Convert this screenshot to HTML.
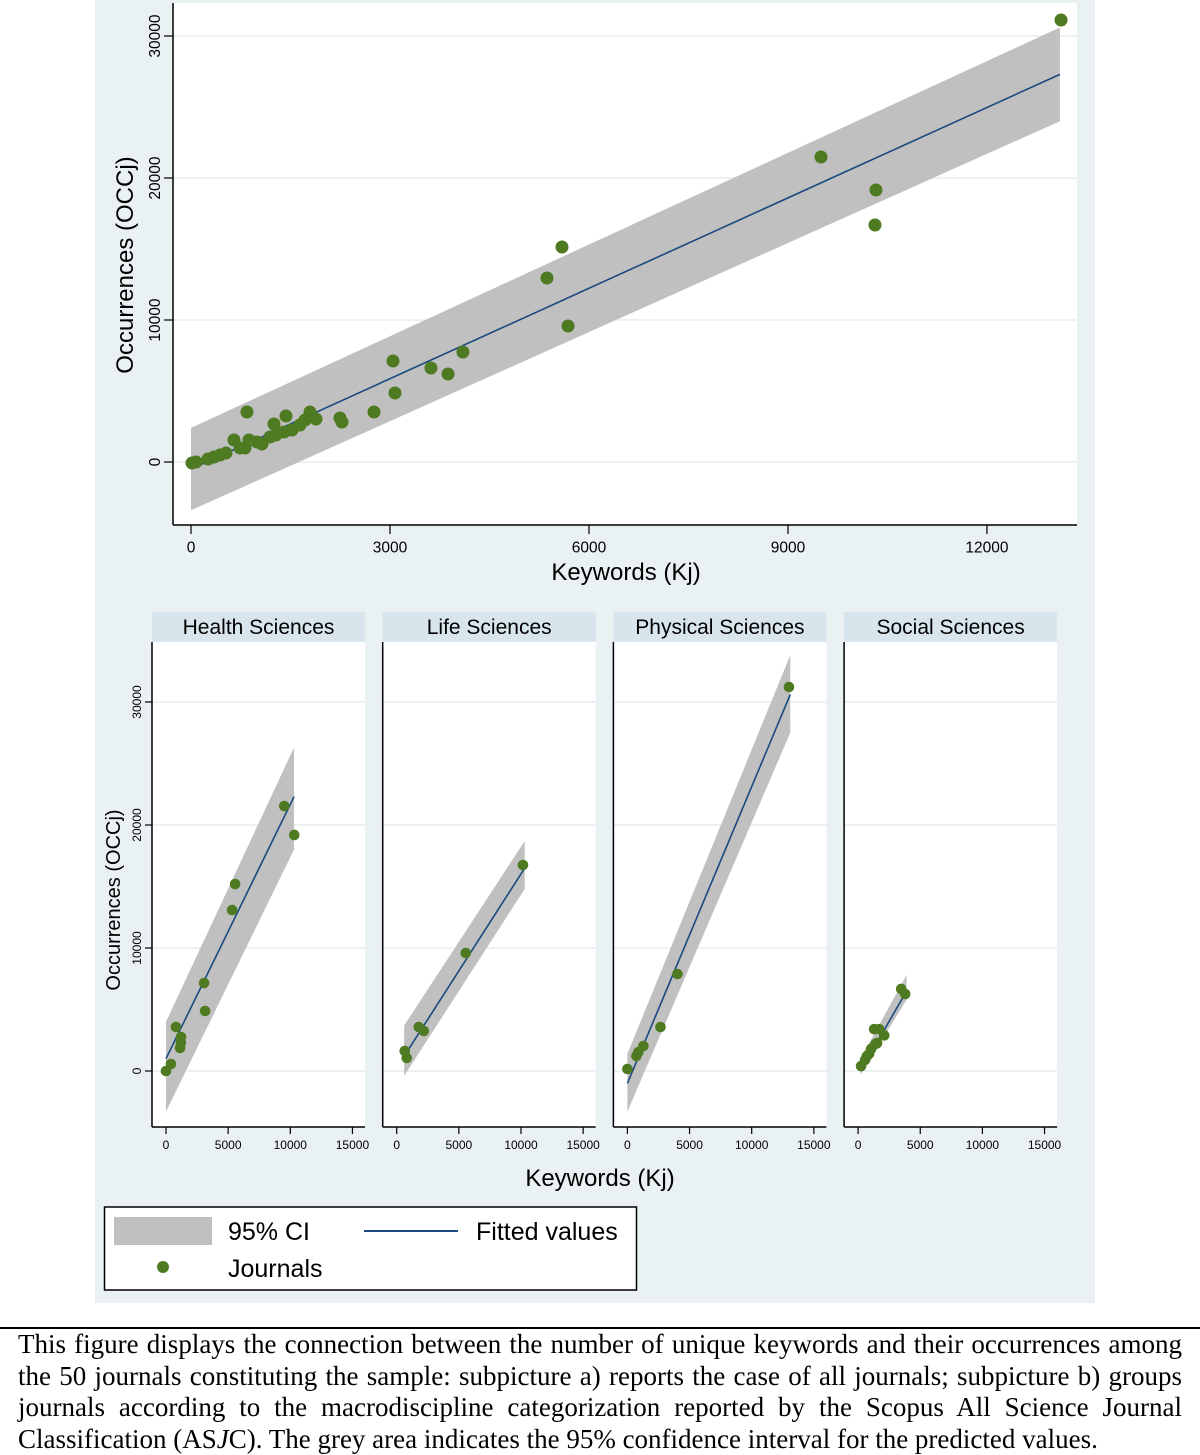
<!DOCTYPE html>
<html><head><meta charset="utf-8"><style>
html,body{margin:0;padding:0;background:#fff;width:1200px;height:1455px;overflow:hidden}
svg{position:absolute;left:0;top:0}
#cap{position:absolute;left:18px;top:1329px;width:1164px;font-family:"Liberation Serif",serif;font-size:27px;line-height:31.5px;color:#000}
#cap span{display:block;white-space:nowrap;text-align:justify;text-align-last:justify}
#cap span.last{text-align-last:left}
</style></head><body>
<svg id="chart" width="1200" height="1455" font-family="Liberation Sans, sans-serif"></svg>
<div style="position:absolute;left:0;top:1327px;width:1200px;height:1.5px;background:#000"></div>
<div id="cap"><span>This figure displays the connection between the number of unique keywords and their occurrences among</span><span>the 50 journals constituting the sample: subpicture a) reports the case of all journals; subpicture b) groups</span><span>journals according to the macrodiscipline categorization reported by the Scopus All Science Journal</span><span class="last">Classification (AS<i>J</i>C). The grey area indicates the 95% confidence interval for the predicted values.</span></div>
<script>
// ---- data: all journals ----
const allKj = [13117,9498,10327,10312,5593,5367,5684,4100,3045,3618,3875,3075,2759,2246,2276,844,1432,1251,1794,1884,1719,1643,1523,1402,1281,1191,1070,995,874,814,739,648,528,437,347,256,75,15];
const allOcc = [31127,21479,19155,16690,15140,12958,9577,7746,7113,6620,6197,4859,3521,3099,2817,3521,3239,2676,3521,3028,2958,2606,2254,2113,1901,1761,1268,1408,1549,986,986,1549,634,493,352,211,0,-70];
const allFitX = [0,13100];
const allFitY = [-500,27300];
const allCiLo = [-3400,24000];
const allCiHi = [2400,30600];
const topXTicks = [0,3000,6000,9000,12000];
const topYTicks = [0,10000,20000,30000];
// ---- data: by discipline ----
const panelNames = ["Health Sciences","Life Sciences","Physical Sciences","Social Sciences"];
const healthKj = [0,400,800,1210,1130,1200,3145,3065,5320,5560,9516,10320];
const healthOcc = [0,570,3577,2760,1870,2300,4878,7150,13090,15200,21540,19190];
const lifeKj = [645,806,1774,2177,5560,10160];
const lifeOcc = [1626,1057,3577,3252,9593,16748];
const physKj = [0,726,887,1290,2660,4030,13000];
const physOcc = [160,1220,1545,2033,3577,7886,31220];
const socKj = [240,565,890,1290,1530,1690,2100,3470,3790,700,1050,1400];
const socOcc = [400,900,1400,3400,2270,3400,2900,6670,6260,1200,1800,2200];
const fitX = [[0,10300],[600,10300],[0,13100],[200,3900]];
const fitY = [[1000,22300],[1200,16500],[-1000,30600],[0,6500]];
const ciLo = [[-3300,18000],[-400,14800],[-3300,27500],[-300,5800]];
const ciHi = [[4000,26300],[3700,18700],[1400,33800],[1000,7800]];
const subXTicks = [0,5000,10000,15000];
const subYTicks = [0,10000,20000,30000];

const NS="http://www.w3.org/2000/svg";
const svg=document.getElementById('chart');
function mk(tag,attrs,parent){const e=document.createElementNS(NS,tag);for(const k in attrs)e.setAttribute(k,attrs[k]);(parent||svg).appendChild(e);return e;}
function txt(s,attrs,parent){const e=mk('text',attrs,parent);e.textContent=s;return e;}

const bg=mk('rect',{x:95,y:0,width:1000,height:1303,fill:'#eaf1f3'});



function panel(o){
  const g=mk('g',{});
  
  
  const sx=v=>o.x0+(v-0)*o.kx, sy=v=>o.y0-v*o.ky;
  const pr=mk('rect',{x:o.L,y:o.T,width:o.R-o.L,height:o.B-o.T,fill:'#fff'},g);
  
  
  o.yt.forEach(t=>{
    const gl=mk('line',{x1:o.L,x2:o.R,y1:sy(t),y2:sy(t),stroke:'#e4edf1','stroke-width':1.5},g);
    
    
  });
  const band=mk('polygon',{points:`${sx(o.fx[0])},${sy(o.lo[0])} ${sx(o.fx[1])},${sy(o.lo[1])} ${sx(o.fx[1])},${sy(o.hi[1])} ${sx(o.fx[0])},${sy(o.hi[0])}`,fill:'#c0c0c0'},g);
  
  
  const fl=mk('line',{x1:sx(o.fx[0]),y1:sy(o.fy[0]),x2:sx(o.fx[1]),y2:sy(o.fy[1]),stroke:'#1a4a80','stroke-width':1.6},g);
  
  
  o.px.forEach((v,i)=>{
    const c=mk('circle',{cx:sx(v),cy:sy(o.py[i]),r:o.r,fill:'#4e7a21'},g);
    
    
  });
  mk('line',{x1:o.L,x2:o.L,y1:o.T,y2:o.B,stroke:'#000','stroke-width':1.5},g);
  mk('line',{x1:o.L,x2:o.R,y1:o.B,y2:o.B,stroke:'#000','stroke-width':1.5},g);
  o.xt.forEach(t=>{
    mk('line',{x1:sx(t),x2:sx(t),y1:o.B,y2:o.B+o.tl,stroke:'#000','stroke-width':1.2},g);
    const l=txt(String(t),{x:sx(t),y:o.B+o.tl+o.fs+3,'font-size':o.fs,'text-anchor':'middle'},g);
    
    
  });
  if(o.showY) o.yt.forEach(t=>{
    mk('line',{x1:o.L-o.tl,x2:o.L,y1:sy(t),y2:sy(t),stroke:'#000','stroke-width':1.2},g);
    const x=o.L-o.tl-4, y=sy(t);
    const l=txt(String(t),{x:x,y:y,'font-size':o.fs,'text-anchor':'middle',transform:`rotate(-90 ${x} ${y})`},g);
    
    
  });
}

panel({name:'all-journals-plot',L:173,R:1077,T:3,B:525,x0:191,kx:0.06633,y0:462,ky:0.0142,
  px:allKj,py:allOcc,fx:allFitX,fy:allFitY,lo:allCiLo,hi:allCiHi,xt:topXTicks,yt:topYTicks,r:6.5,tl:9,fs:15.5,showY:true});
let t=txt('Occurrences (OCCj)',{x:133,y:265,'font-size':24,'text-anchor':'middle',transform:'rotate(-90 133 265)'});


t=txt('Keywords (Kj)',{x:626,y:580,'font-size':24,'text-anchor':'middle'});



const pts=[[healthKj,healthOcc],[lifeKj,lifeOcc],[physKj,physOcc],[socKj,socOcc]];
panelNames.forEach((n,i)=>{
  const L=152+i*230.7, R=L+213;
  const h=mk('rect',{x:L,y:612,width:213,height:30,fill:'#d9e5ec'});
  
  
  const ht=txt(n,{x:L+106.5,y:634,'font-size':21,'text-anchor':'middle'});
  
  
  panel({name:'panel-'+n.toLowerCase().replace(' ','-'),L:L,R:R,T:642,B:1127,x0:L+14,kx:0.01243,y0:1071,ky:0.0123,
    px:pts[i][0],py:pts[i][1],fx:fitX[i],fy:fitY[i],lo:ciLo[i],hi:ciHi[i],xt:subXTicks,yt:subYTicks,r:5.3,tl:7,fs:12,showY:i===0});
});
t=txt('Occurrences (OCCj)',{x:120,y:900,'font-size':20,'text-anchor':'middle',transform:'rotate(-90 120 900)'});


t=txt('Keywords (Kj)',{x:600,y:1186,'font-size':24,'text-anchor':'middle'});



// legend
const lg=mk('g',{});


mk('rect',{x:104.5,y:1207,width:532,height:83,fill:'#fff',stroke:'#000','stroke-width':1.5},lg);
mk('rect',{x:114,y:1217,width:98,height:28,fill:'#c0c0c0'},lg);
txt('95% CI',{x:228,y:1240,'font-size':25},lg);
mk('line',{x1:364,x2:458,y1:1231,y2:1231,stroke:'#1a4a80','stroke-width':2},lg);
txt('Fitted values',{x:476,y:1240,'font-size':25},lg);
mk('circle',{cx:163,cy:1267,r:6,fill:'#4e7a21'},lg);
txt('Journals',{x:228,y:1277,'font-size':25},lg);
</script>
</body></html>
